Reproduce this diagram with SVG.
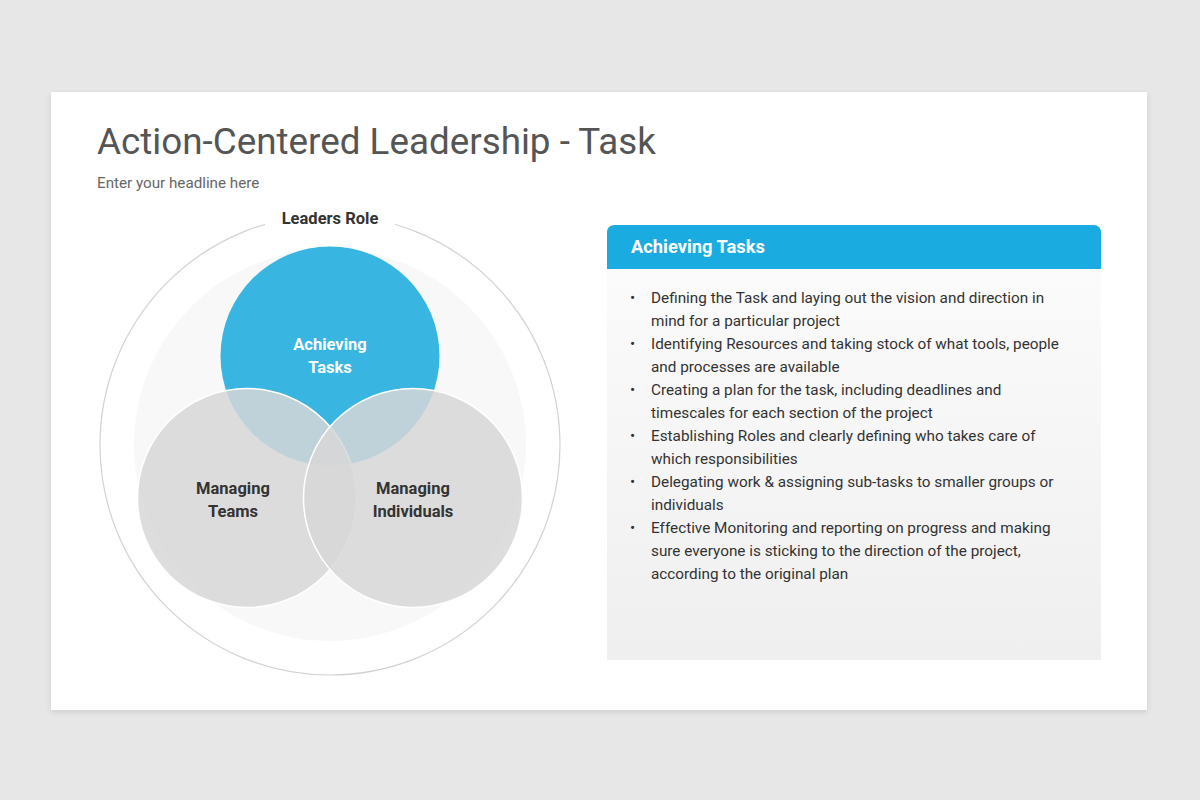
<svg xmlns="http://www.w3.org/2000/svg" width="1200" height="800" viewBox="0 0 1200 800">
<defs>
<linearGradient id="panelGrad" x1="0" y1="0" x2="0" y2="1">
<stop offset="0" stop-color="#fbfbfb"/>
<stop offset="1" stop-color="#efefef"/>
</linearGradient>
<filter id="shadow" x="-5%" y="-5%" width="110%" height="115%">
<feGaussianBlur in="SourceAlpha" stdDeviation="3"/>
<feOffset dx="0" dy="2"/>
<feComponentTransfer><feFuncA type="linear" slope="0.12"/></feComponentTransfer>
<feMerge><feMergeNode/><feMergeNode in="SourceGraphic"/></feMerge>
</filter>
<style>
.title{font-family:Roboto,"Liberation Sans",sans-serif;font-size:36.8px;fill:#555555;}
.sub{font-family:Roboto,"Liberation Sans",sans-serif;font-size:15.2px;fill:#666666;}
.lbl{font-family:Roboto,"Liberation Sans",sans-serif;font-size:16.5px;font-weight:bold;text-anchor:middle;}
.dark{fill:#333333;}
.light{fill:#ffffff;}
.gray{fill:#d7d7d7;fill-opacity:0.85;stroke:#ffffff;stroke-width:1.5;}
.body{font-family:Roboto,"Liberation Sans",sans-serif;font-size:15.3px;fill:#333333;}
.hdr{font-family:Roboto,"Liberation Sans",sans-serif;font-size:18.3px;font-weight:bold;fill:#ffffff;}
</style>
</defs>
<rect width="1200" height="800" fill="#e8e7e8"/>
<rect x="51" y="92" width="1096" height="618" fill="#ffffff" filter="url(#shadow)"/>
<text class="title" x="97" y="154">Action-Centered Leadership - Task</text>
<text class="sub" x="97" y="188">Enter your headline here</text>

<g id="leaders-role">
<circle cx="330" cy="445" r="230" fill="none" stroke="#d2d2d2" stroke-width="1.2"/>
<rect x="265" y="205" width="130" height="30" fill="#ffffff"/>
<circle cx="330" cy="445" r="196" fill="#f8f8f8"/>
<text class="lbl dark" x="330" y="224">Leaders Role</text>
</g>
<g id="achieving-tasks">
<circle cx="330" cy="356" r="109.5" fill="#38b5e1"/>
</g>
<g id="managing-teams">
<circle class="gray" cx="247" cy="498" r="109.5"/>
</g>
<g id="managing-individuals">
<circle class="gray" cx="413" cy="498" r="109.5"/>
</g>
<g id="venn-labels">
<text class="lbl light" x="330" y="350">Achieving</text>
<text class="lbl light" x="330" y="373">Tasks</text>
<text class="lbl dark" x="233" y="494">Managing</text>
<text class="lbl dark" x="233" y="517">Teams</text>
<text class="lbl dark" x="413" y="494">Managing</text>
<text class="lbl dark" x="413" y="517">Individuals</text>
</g>

<g id="detail-panel">
<rect x="607" y="269" width="494" height="391" fill="url(#panelGrad)"/>
<path d="M607 269 V233 Q607 225 615 225 H1093 Q1101 225 1101 233 V269 Z" fill="#1aabe0"/>
<text class="hdr" x="631" y="253">Achieving Tasks</text>
<g class="body">
<text x="630" y="303">•</text><text x="651" y="303">Defining the Task and laying out the vision and direction in</text>
<text x="651" y="326">mind for a particular project</text>
<text x="630" y="349">•</text><text x="651" y="349">Identifying Resources and taking stock of what tools, people</text>
<text x="651" y="372">and processes are available</text>
<text x="630" y="395">•</text><text x="651" y="395">Creating a plan for the task, including deadlines and</text>
<text x="651" y="418">timescales for each section of the project</text>
<text x="630" y="441">•</text><text x="651" y="441">Establishing Roles and clearly defining who takes care of</text>
<text x="651" y="464">which responsibilities</text>
<text x="630" y="487">•</text><text x="651" y="487">Delegating work &amp; assigning sub-tasks to smaller groups or</text>
<text x="651" y="510">individuals</text>
<text x="630" y="533">•</text><text x="651" y="533">Effective Monitoring and reporting on progress and making</text>
<text x="651" y="556">sure everyone is sticking to the direction of the project,</text>
<text x="651" y="579">according to the original plan</text>
</g>
</g>
</svg>
